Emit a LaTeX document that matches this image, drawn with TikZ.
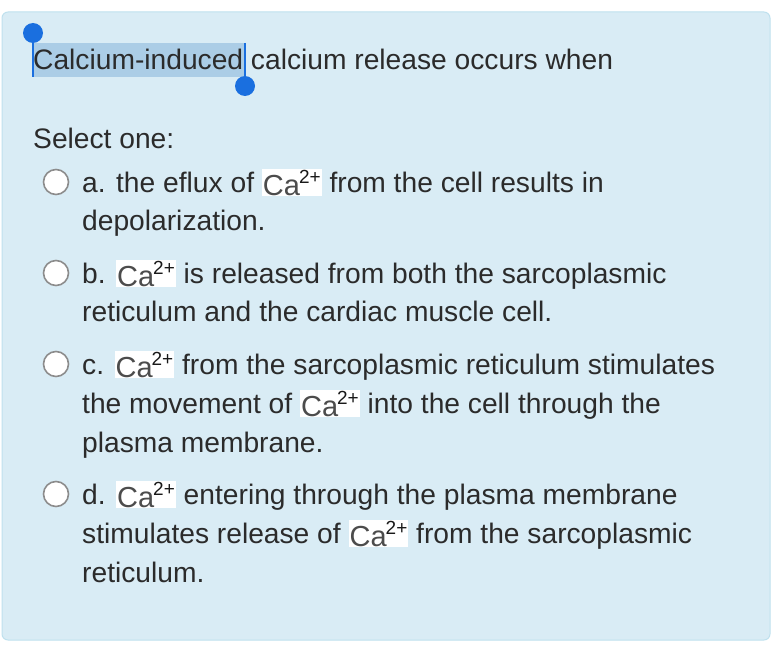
\documentclass[tikz,border=0pt]{standalone}
\usepackage{fontspec}
\setmainfont{Liberation Sans}
\definecolor{panel}{HTML}{D9ECF5}
\definecolor{panelb}{HTML}{BFE1EE}
\definecolor{txt}{HTML}{2B2B2B}
\definecolor{sel}{HTML}{ABCDE6}
\definecolor{handle}{HTML}{1A6FDF}
\newcommand{\caion}{\setlength{\fboxsep}{1pt}\colorbox{white}{\color{black!70}\raisebox{-3pt}{\fontsize{29}{29}\selectfont Ca}\kern-1pt\raisebox{9pt}{\fontsize{19}{19}\selectfont\color{black!90}2+}}}
\begin{document}
\begin{tikzpicture}[x=1pt,y=-1pt,
  line/.style={anchor=base west,inner sep=0pt,text=txt,font=\fontsize{28.2}{28.2}\selectfont},
  radio/.style={circle,draw=black!45,fill=white,line width=1.6pt,minimum size=25pt,inner sep=0pt}]
\useasboundingbox (0,0) rectangle (771,669);
\fill[panel,draw=panelb,line width=1pt,rounded corners=6pt] (2,12) rectangle (770,640);
\fill[sel] (33,43) rectangle (245,77);
\node[line] (q) at (33,70) {Calcium-induced calcium release occurs when};
\draw[handle,line width=2.5pt] (33,40) -- (33,77);
\fill[handle] (33,33) circle (10);
\draw[handle,line width=2.5pt] (245,43) -- (245,80);
\fill[handle] (245,86) circle (10);
\node[line] (s) at (33,148) {Select one:};
\node[radio] (ra) at (56,182) {};
\node[line] (a1) at (82,192) {a. the eflux of \caion{} from the cell results in};
\node[line] (a2) at (82,230) {depolarization.};
\node[radio] (rb) at (56,273) {};
\node[line] (b1) at (82,283) {b. \caion{} is released from both the sarcoplasmic};
\node[line] (b2) at (82,321) {reticulum and the cardiac muscle cell.};
\node[radio] (rc) at (56,364) {};
\node[line] (c1) at (82,374) {c. \caion{} from the sarcoplasmic reticulum stimulates};
\node[line] (c2) at (82,413) {the movement of \caion{} into the cell through the};
\node[line] (c3) at (82,452) {plasma membrane.};
\node[radio] (rd) at (56,494) {};
\node[line] (d1) at (82,504) {d. \caion{} entering through the plasma membrane};
\node[line] (d2) at (82,543) {stimulates release of \caion{} from the sarcoplasmic};
\node[line] (d3) at (82,582) {reticulum.};
\end{tikzpicture}
\end{document}
